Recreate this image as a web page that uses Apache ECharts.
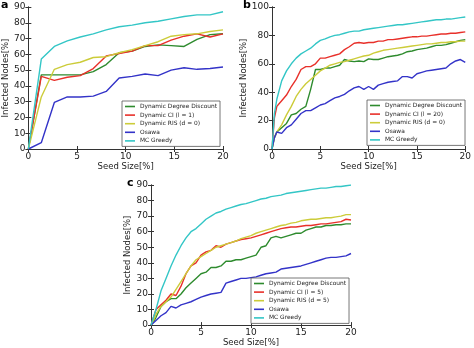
<!DOCTYPE html>
<html><head><meta charset="utf-8">
<script src="https://cdn.jsdelivr.net/npm/echarts@6/dist/echarts.min.js"></script>
<style>html,body{margin:0;padding:0;background:#fff}#c{width:474px;height:348px}</style>
</head><body><div id="c"></div>
<script>
// Panel a
const aX = [0,1.33,2.67,4,5.33,6.67,8,9.33,10.67,12,13.33,14.67,16,17.33,18.67,20];
const aDDD = [0,47,47,47,47,49,53.5,61,62,65,66,65.5,65,69.5,72.5,73];
const aCI  = [0,46,43.5,45.5,46.5,51,59,60.5,62,65.5,65.5,69,71.5,73,71,73];
const aRIS = [0,33,50.5,53.5,55,58,58.5,61,63,65.5,68,71.5,72.5,73,74.5,75.5];
const aOsawa = [0,4,29.5,33,33,33.5,36.5,45,46,47.5,46.5,50,51.5,50.5,51,52];
const aMC  = [0,57,65,68.5,71,73,75.5,77.5,78.5,80,81,82.5,84,85,85,87];
// Panels b and c share x sampling
const bcX = [0,0.25,0.5,1,1.5,2,2.5,3,3.5,4,4.5,5,5.5,6,6.5,7,7.5,8,8.5,9,9.5,10,10.5,11,11.5,12,12.5,13,13.5,14,14.5,15,15.5,16,16.5,17,17.5,18,18.5,19,19.5,20];
const bMC = [0,25,35,48,55,60,64,67,69,71,74,76.5,77.5,79,80,80.5,81.5,82.5,83,83,84,84.5,85,85.5,86,86.5,87,87.5,87.5,88,88.5,89,89.5,90,90.5,91,91,91.5,91.5,92,92.5,93];
const bCI = [0,22,30,34,38,44,49,56,58,58,60,64,64,65,66,67,70,72,74.5,75,74.5,75,75,76,76,77,77,77.5,78,78.5,79,79,79.5,79.5,80,80.5,81,81,81.5,81.5,82,82.5];
const bRIS = [0,8,12,17,24,30,37,42,46,49,52,55,57,59,60,61,61.5,62.5,63.5,64.5,65.5,66,67.5,68.5,69.5,70,70.5,71,71.5,72,72.5,73,73.5,74,74,74.5,75,75,75.5,75.5,76,76];
const bDDD = [0,8,12,15,18,24,25,28,30,42,56,56,57,57,58,59,63,62,61.5,62,61.5,63.5,63,63,64,65,65.5,66,67,68.5,69,70,70.5,71,72,73,73,73.5,74.5,75.5,76.5,77];
const bOsawa = [0,8,12,11,15,17,21,25,27,27,29,31,32,34,36,37,38.5,41,43,44,42,44,42,45,46,47,47.5,48,51,51,50,53,54,55,55.5,56,56.5,57,60,62,63,61];
const cMC = [0,5,10,22,30,38,45,51,56,60,62,65,68,70,72,73,74.5,75.5,76.5,77.5,78,79,80,81,81.5,82.5,83,83.5,84.5,85,85.5,86,86.5,87,87.5,88,88,88.5,89,89,89.5,90];
const cCI = [0,5,10,13,16,20,19,25,33,38,40,45,47,48,51,50,52,53,54,55,55.5,56,57,58,59,60,61,62,62.5,63,63,63.5,64,64,64.5,65,65,65.5,66,66.5,68,67.5];
const cRIS = [0,3,7,12,15,18,23,28,33,38,42,44,46,48,50,51,52,53,54,55.5,56.5,57.5,59,60,61,62,63,64,64.5,65.5,66,67,67.5,68,68,68.5,69,69,69.5,70,71,71];
const cDDD = [0,2,5,12,15,17,17,20,24,27,30,33,34,37,37,38,41,41,42,42,43,44,45,50,51,56,57,56,57,58,59,59,61,62,63,63,64,64,64.5,64.5,65,65];
const cOsawa = [0,1.5,3,6,8,12,11,13,14,15,16.5,18,19,20,20.5,21,27,28,29,30,30,30.5,31,32,33,33.5,34,36,36.5,37,37.5,38,39,40,41,42,43,43.5,43.5,44,44.5,46];
const xTicks = [0,5,10,15,20];
const panelLabels = ['a','b','c'];
const namesA = ['Dynamic Degree Discount','Dynamic CI (l = 1)','Dynamic RIS (d = 0)','Osawa','MC Greedy'];
const namesB = ['Dynamic Degree Discount','Dynamic CI (l = 20)','Dynamic RIS (d = 0)','Osawa','MC Greedy'];
const namesC = ['Dynamic Degree Discount','Dynamic CI (l = 5)','Dynamic RIS (d = 5)','Osawa','MC Greedy'];
const colors = ['#2e8b2e','#e8302a','#cccc3a','#3333c8','#33c6c6'];

const FONT = 'DejaVu Sans';
const grids = [
  {left:22, top:7, width:201, height:142},
  {left:272, top:7, width:196, height:142},
  {left:151, top:185, width:200, height:142}
];
const yMax = [90,100,90];
const yInt = [10,20,10];
const xAxes = [], yAxes = [];
grids.forEach((g,i)=>{
  xAxes.push({type:'value', gridIndex:i, min:0, max:20, interval:5,
    name:'Seed Size[%]', nameLocation:'middle', nameGap:11,
    nameTextStyle:{fontFamily:FONT, fontSize:8.5, color:'#222'},
    axisLine:{lineStyle:{color:'#333'}}, axisTick:{inside:true, length:3, lineStyle:{color:'#333'}},
    axisLabel:{fontFamily:FONT, fontSize:9, color:'#222', margin:3, formatter:v=>xTicks.includes(v)?String(v):''},
    splitLine:{show:false}});
  xAxes.push({type:'value', gridIndex:i, position:'top', min:0, max:20, interval:5,
    axisLine:{lineStyle:{color:'#333'}}, axisTick:{inside:true, length:3, lineStyle:{color:'#333'}},
    axisLabel:{show:false}, splitLine:{show:false}});
  yAxes.push({type:'value', gridIndex:i, min:0, max:yMax[i], interval:yInt[i],
    name:'Infected Nodes[%]', nameLocation:'middle', nameGap: i===1?22:17,
    nameTextStyle:{fontFamily:FONT, fontSize:8.5, color:'#222'},
    axisLine:{lineStyle:{color:'#333'}}, axisTick:{inside:true, length:3, lineStyle:{color:'#333'}},
    axisLabel:{fontFamily:FONT, fontSize:9, color:'#222', margin:3},
    splitLine:{show:false}});
  yAxes.push({type:'value', gridIndex:i, position:'right', min:0, max:yMax[i], interval:yInt[i],
    axisLine:{lineStyle:{color:'#333'}}, axisTick:{inside:true, length:3, lineStyle:{color:'#333'}},
    axisLabel:{show:false}, splitLine:{show:false}});
});

function pairs(xs, ys){ return xs.map((x,k)=>[x, ys[k]]); }
const panelData = [
  {x:aX, ys:[aDDD,aCI,aRIS,aOsawa,aMC], names:namesA},
  {x:bcX, ys:[bDDD,bCI,bRIS,bOsawa,bMC], names:namesB},
  {x:bcX, ys:[cDDD,cCI,cRIS,cOsawa,cMC], names:namesC}
];
const series = [];
panelData.forEach((p,i)=>{
  p.ys.forEach((ys,j)=>{
    series.push({type:'line', name:p.names[j], xAxisIndex:i*2, yAxisIndex:i*2,
      data:pairs(p.x, ys), symbol:'none', animation:false,
      lineStyle:{width:1.4, color:colors[j]}, itemStyle:{color:colors[j]}});
  });
});
const legendPos = [
  {left:122, top:101},
  {left:367, top:100},
  {left:251, top:278}
];
const legends = panelData.map((p,i)=>({
  data:p.names.map(n=>({name:n, icon:'rect'})), orient:'vertical', left:legendPos[i].left, top:legendPos[i].top,
  itemWidth:10, itemHeight:1.6, itemGap:2.6, padding:[2.5,3,2.5,3], selectedMode:false,
  borderColor:'#555', borderWidth:0.8, backgroundColor:'#fff',
  textStyle:{fontFamily:FONT, fontSize:5.9, lineHeight:5.6, color:'#222'}
}));
const titlePos = [{left:1,top:0},{left:243,top:0},{left:127,top:178}];
const titles = panelLabels.map((t,i)=>({text:t, left:titlePos[i].left, top:titlePos[i].top, padding:0,
  textStyle:{fontFamily:FONT, fontSize:11, fontWeight:'bold', color:'#000'}}));

const chart = echarts.init(document.getElementById('c'), null, {renderer:'canvas'});
chart.setOption({
  animation:false,
  title:titles,
  grid:grids.map(g=>Object.assign({show:false, containLabel:false}, g)),
  xAxis:xAxes, yAxis:yAxes, legend:legends, series:series
});
</script></body></html>
